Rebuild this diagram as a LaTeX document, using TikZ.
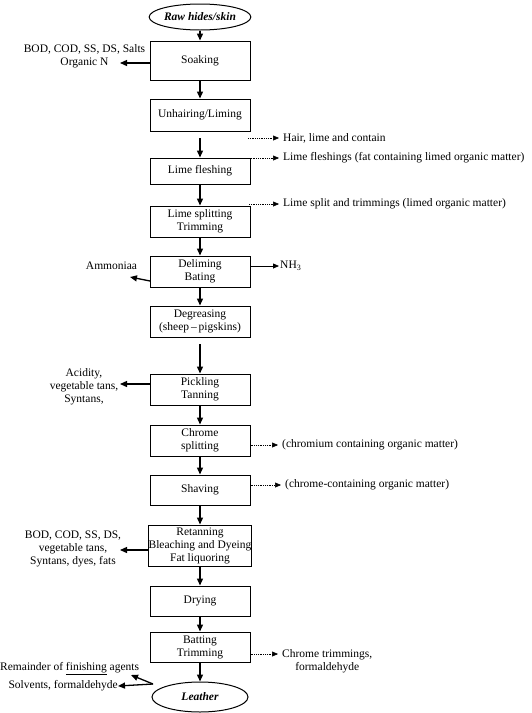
\documentclass[tikz,border=0pt]{standalone}
\usepackage{fontspec}
\setmainfont{Liberation Serif}
\usetikzlibrary{arrows.meta,shapes.geometric}
\begin{document}
\begin{tikzpicture}[x=1pt,y=-1pt,
  every node/.style={font=\fontsize{11.5}{13}\selectfont},
  box/.style={draw,line width=1pt,minimum width=100pt,inner sep=0pt,align=center},
  oval/.style={draw,line width=1pt,ellipse,inner sep=0pt,minimum width=100pt,font=\fontsize{11.5}{13}\selectfont\bfseries\itshape},
  lbl/.style={inner sep=0pt,align=center},
  flow/.style={line width=1.3pt,-{Triangle[length=7pt,width=6pt]}},
  side/.style={line width=1.3pt,-{Triangle[length=7pt,width=6pt]}},
  thinside/.style={line width=0.8pt,shorten >=1pt,-{Triangle[length=6pt,width=5pt]}},
  dotarrow/.style={line width=0.8pt,densely dotted,shorten >=4pt,-{Triangle[length=6pt,width=5pt,line width=0.5pt]}}
]
\useasboundingbox (0,0) rectangle (532,713);
% main column
\node[oval,minimum height=26pt] (raw) at (200,17) {Raw hides/skin};
\node[box,minimum height=39pt] (soak) at (200,60.5) {Soaking};
\node[box,minimum height=32pt] (unhair) at (200,115) {Unhairing/Liming};
\node[box,minimum height=26pt] (flesh) at (200,171) {Lime fleshing};
\node[box,minimum height=31pt] (split) at (200,221.5) {Lime splitting\\Trimming};
\node[box,minimum height=31pt] (delime) at (200,271.5) {Deliming\\Bating};
\node[box,minimum height=31pt] (degr) at (200,321.5) {Degreasing\\(sheep\,--\,pigskins)};
\node[box,minimum height=31pt] (pickle) at (200,389.5) {Pickling\\Tanning};
\node[box,minimum height=31pt] (chrome) at (200,440.5) {Chrome\\splitting};
\node[box,minimum height=30pt] (shave) at (200,490) {Shaving};
\node[box,minimum height=41pt] (retan) at (200,545.5) {Retanning\\Bleaching and Dyeing\\Fat liquoring};
\node[box,minimum height=30pt] (dry) at (200,601) {Drying};
\node[box,minimum height=30pt] (batt) at (200,647) {Batting\\Trimming};
\node[oval,minimum width=96pt,minimum height=30pt] (leather) at (200,697) {Leather};

\coordinate (gapA) at (200,138);
\coordinate (gapB) at (200,344);
\draw[flow] (raw) -- (soak);
\draw[flow] (soak) -- (unhair);
\draw[flow] (gapA) -- (flesh);
\draw[flow] (flesh) -- (split);
\draw[flow] (split) -- (delime);
\draw[flow] (delime) -- (degr);
\draw[flow] (gapB) -- (pickle);
\draw[flow] (pickle) -- (chrome);
\draw[flow] (chrome) -- (shave);
\draw[flow] (shave) -- (retan);
\draw[flow] (retan) -- (dry);
\draw[flow] (dry) -- (batt);
\draw[flow] (batt) -- (leather);

% right side labels
\node[lbl,anchor=west] (hairT) at (283,138) {Hair, lime and contain};
\node[lbl,anchor=west] (fleshT) at (283,158) {Lime fleshings (fat containing limed organic matter)};
\node[lbl,anchor=west] (splitT) at (283,204) {Lime split and trimmings (limed organic matter)};
\node[lbl,anchor=west] (nhT) at (280,266) {NH\textsubscript{3}};
\node[lbl,anchor=west] (chromeT) at (282,445) {(chromium containing organic matter)};
\node[lbl,anchor=west] (shaveT) at (285,485) {(chrome-containing organic matter)};
\node[lbl,anchor=west] (battT) at (282,661.5) {Chrome trimmings,\\formaldehyde};

\coordinate (hairS) at (248,138);
\coordinate (fleshS) at (249,158);
\coordinate (splitS) at (249,204);
\coordinate (battE) at (282,654);
\draw[dotarrow] (hairS) -- (hairT.west);
\draw[dotarrow] (fleshS) -- (fleshT.west);
\draw[dotarrow] (splitS) -- (splitT.west);
\draw[thinside] (delime.east |- nhT.west) -- (nhT.west);
\draw[dotarrow] (chrome.east |- chromeT.west) -- (chromeT.west);
\draw[dotarrow] (shave.east |- shaveT.west) -- (shaveT.west);
\draw[dotarrow] (batt.east |- battE) -- (battE);

% left side labels
\node[lbl] (soakT) at (84.5,56.5) {BOD, COD, SS, DS, Salts\\Organic N};
\node[lbl] (ammT) at (111.5,266) {Ammoniaa};
\node[lbl] (pickT) at (84,387) {Acidity,\\vegetable tans,\\Syntans,};
\node[lbl] (retT) at (73,549) {BOD, COD, SS, DS,\\vegetable tans,\\Syntans, dyes, fats};
\node[lbl,anchor=west] (remT) at (0,669) {Remainder of \underline{finishing} agents};
\node[lbl,anchor=east] (solvT) at (118,686) {Solvents, formaldehyde};

\coordinate (soakE) at (120,63);
\coordinate (ammE) at (130,277);
\coordinate (ammS) at (150,281);
\coordinate (pickE) at (120,384);
\coordinate (retE) at (120,550);
\coordinate (leaS) at (153,684);
\coordinate (remE) at (131,675);
\draw[side] (soak.west |- soakE) -- (soakE);
\draw[side] (ammS) -- (ammE);
\draw[side] (pickle.west |- pickE) -- (pickE);
\draw[side] (retan.west |- retE) -- (retE);
\draw[side] (leaS) -- (solvT.east);
\draw[side] (leaS) -- (remE);
\end{tikzpicture}
\end{document}
